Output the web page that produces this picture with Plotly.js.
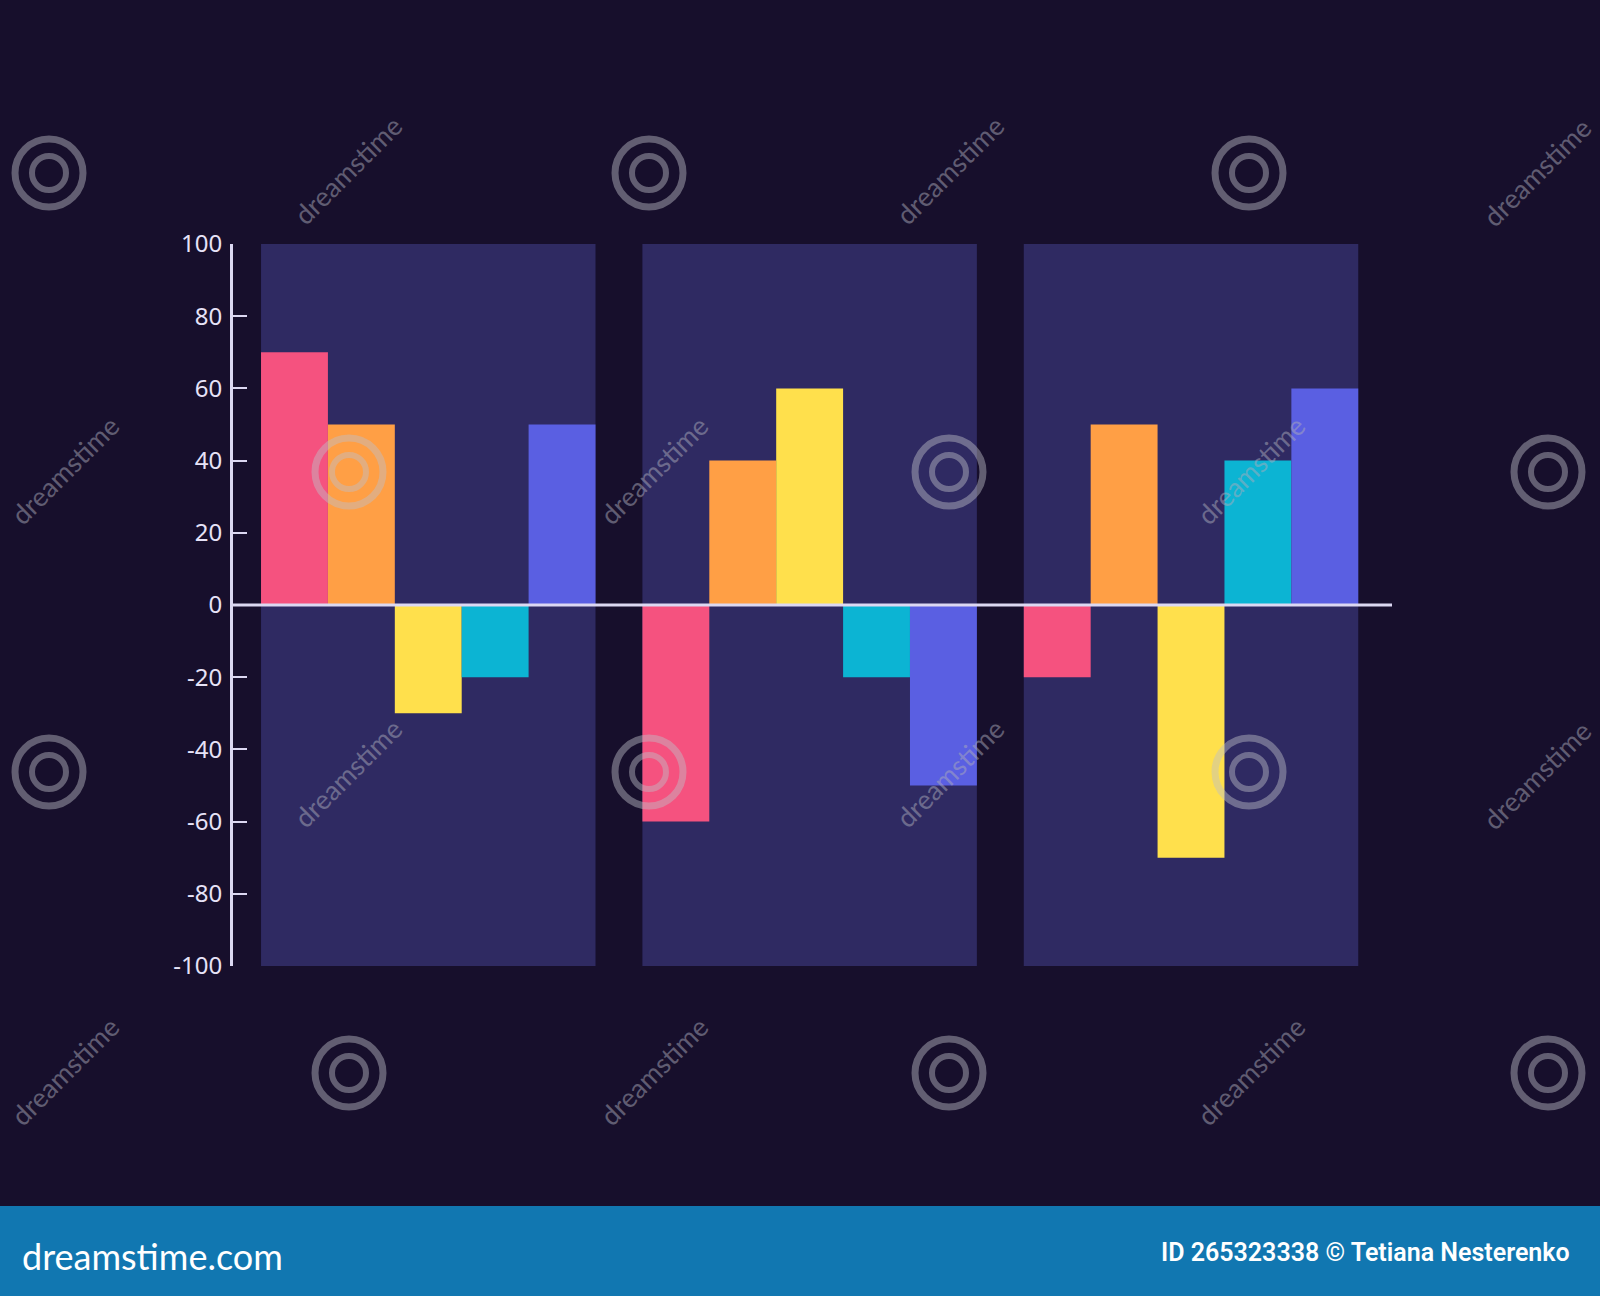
<!DOCTYPE html>
<html>
<head>
<meta charset="utf-8">
<script src="https://cdn.plot.ly/plotly-3.0.1.min.js"></script>
<style>
  html, body { margin: 0; padding: 0; background: #170f2c; }
  #chart { width: 1600px; height: 1296px; }
</style>
</head>
<body>
<div id="chart"></div>
<script>
// ---- data ----
const categories = ["Group 1", "Group 2", "Group 3"];
const seriesNames = ["Pink", "Orange", "Yellow", "Cyan", "Blue"];
const pinkValues   = [70, -60, -20];
const orangeValues = [50, 40, 50];
const yellowValues = [-30, 60, -70];
const cyanValues   = [-20, -20, 40];
const blueValues   = [50, -50, 60];
const tickValues = [-100, -80, -60, -40, -20, 0, 20, 40, 60, 80, 100];
const tickLabels = ["-100", "-80", "-60", "-40", "-20", "0", "20", "40", "60", "80", "100"];

// ---- styles ----
const seriesValues = [pinkValues, orangeValues, yellowValues, cyanValues, blueValues];
const seriesColors = ["#f5527f", "#ff9f45", "#ffe04c", "#0cb4d3", "#5a5fe2"];
const BG = "#170f2c";
const PANEL = "#2f2a62";
const AXIS = "#dcd8f2";
const BARGAP = 0.123;

const W = 1600, H = 1296;
const M = { l: 233, r: 208, t: 244, b: 330 };
const PW = W - M.l - M.r, PH = H - M.t - M.b;
const px = x => (x - M.l) / PW;
const py = y => (H - M.b - y) / PH;

const traces = seriesValues.map((vals, i) => ({
  type: "bar",
  name: seriesNames[i],
  x: categories,
  y: vals,
  marker: { color: seriesColors[i], line: { width: 0 } },
  hoverinfo: "x+y+name"
}));

const shapes = [];
// panel backgrounds behind each group
categories.forEach((c, i) => {
  shapes.push({
    type: "rect", xref: "x", yref: "y", layer: "below",
    x0: i - (1 - BARGAP) / 2, x1: i + (1 - BARGAP) / 2, y0: -100, y1: 100,
    fillcolor: PANEL, line: { width: 0 }
  });
});
// zero line on top
shapes.push({
  type: "line", xref: "paper", yref: "y", layer: "above",
  x0: 0, x1: 1, y0: 0, y1: 0, line: { color: AXIS, width: 3 }
});
// bottom banner
shapes.push({
  type: "rect", xref: "paper", yref: "paper", layer: "above",
  x0: px(0), x1: px(W), y0: py(H), y1: py(1206),
  fillcolor: "#1177b1", line: { width: 0 }
});

// watermark decoration
const wmSpots = [[49,173],[649,173],[1249,173],[349,472],[949,472],[1548,472],
                 [49,772],[649,772],[1249,772],[349,1073],[949,1073],[1548,1073]];
const wmText = [[347,170],[949,170],[1536,172],[64,470],[653,470],[1250,470],
                [347,773],[949,773],[1536,775],[64,1071],[653,1071],[1250,1071]];
wmSpots.forEach(([cx, cy]) => {
  [[34, 7], [17, 6]].forEach(([r, w]) => {
    shapes.push({
      type: "circle", xref: "paper", yref: "paper", layer: "above",
      x0: px(cx - r), x1: px(cx + r), y0: py(cy + r), y1: py(cy - r),
      line: { color: "rgba(190,190,200,0.45)", width: w }
    });
  });
});

const annotations = [
  {
    xref: "paper", yref: "paper", x: px(20), y: py(1256), xanchor: "left", yanchor: "middle",
    text: "dreamstime.com", showarrow: false,
    font: { family: "Lato, 'Noto Sans', sans-serif", size: 36, color: "#ffffff" }
  },
  {
    xref: "paper", yref: "paper", x: px(1572), y: py(1252), xanchor: "right", yanchor: "middle",
    text: "ID 265323338 © Tetiana Nesterenko", showarrow: false,
    font: { family: "Roboto, sans-serif", size: 25, weight: 600, color: "#ffffff" }
  }
];
wmText.forEach(([cx, cy]) => {
  annotations.push({
    xref: "paper", yref: "paper", x: px(cx), y: py(cy), xanchor: "center", yanchor: "middle",
    text: "dreamstime", textangle: -45, showarrow: false,
    font: { family: "Lato, 'Noto Sans', sans-serif", size: 27, color: "rgba(170,170,185,0.5)" }
  });
});

const layout = {
  width: W, height: H,
  margin: M,
  paper_bgcolor: BG, plot_bgcolor: BG,
  showlegend: false,
  barmode: "group", bargap: BARGAP, bargroupgap: 0,
  xaxis: {
    type: "category", range: [-0.512, 2.527],
    showticklabels: false, showgrid: false, zeroline: false, showline: false, ticks: ""
  },
  yaxis: {
    range: [-100, 100], tickvals: tickValues, ticktext: tickLabels,
    showgrid: false, zeroline: false,
    showline: true, linecolor: AXIS, linewidth: 3,
    ticks: "inside", ticklen: 14, tickwidth: 2, tickcolor: AXIS,
    ticklabelstandoff: 3,
    tickfont: { family: "'Noto Sans', sans-serif", size: 24, color: "#e6e2f7" }
  },
  shapes: shapes,
  annotations: annotations
};

Plotly.newPlot("chart", traces, layout, { displayModeBar: false, staticPlot: true });
</script>
</body>
</html>
